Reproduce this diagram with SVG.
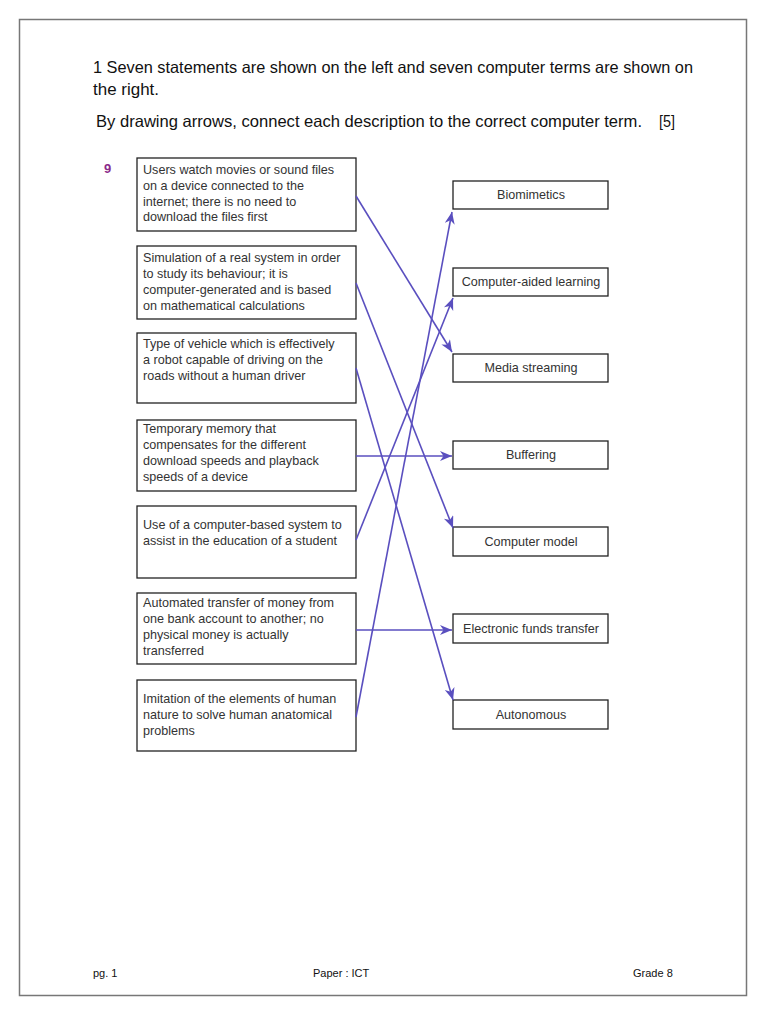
<svg xmlns="http://www.w3.org/2000/svg" width="768" height="1024" viewBox="0 0 768 1024">
<style>
.hd{font-family:"Liberation Sans",Arial,sans-serif;font-size:16.5px;fill:#111}
.ft{font-family:"Liberation Sans",Arial,sans-serif;font-size:11px;fill:#111}
.bx{fill:#fff;stroke:#222;stroke-width:1.3}
.lt{font-family:"Liberation Sans",Arial,sans-serif;font-size:12.6px;fill:#333}
.rt{font-family:"Liberation Sans",Arial,sans-serif;font-size:12.6px;fill:#333;text-anchor:middle}
.cn{stroke:#5a4fbf;stroke-width:1.6;fill:none;marker-end:url(#ah)}
</style>
<defs>
<marker id="ah" markerWidth="14" markerHeight="12" refX="12" refY="5" orient="auto" markerUnits="userSpaceOnUse">
<path d="M0,0 L12,5 L0,10 L3.5,5 z" fill="#5a4fbf"/>
</marker>
</defs>
<rect x="0" y="0" width="768" height="1024" fill="#fff"/>
<rect x="19.5" y="19.5" width="727" height="976" fill="none" stroke="#777" stroke-width="1.5"/>
<g id="header">
<text class="hd" x="93" y="73" textLength="600" lengthAdjust="spacingAndGlyphs">1 Seven statements are shown on the left and seven computer terms are shown on</text>
<text class="hd" x="93" y="95" textLength="66" lengthAdjust="spacingAndGlyphs">the right.</text>
<text class="hd" x="96" y="127" textLength="546" lengthAdjust="spacingAndGlyphs">By drawing arrows, connect each description to the correct computer term.</text>
<text class="hd" x="659" y="127" font-size="14" textLength="16" lengthAdjust="spacingAndGlyphs">[5]</text>
<text x="104" y="173" font-family="Liberation Sans,Arial,sans-serif" font-size="13" font-weight="bold" fill="#8a2a8a">9</text>
</g>
<g id="s1"><rect class="bx" x="137" y="158" width="219" height="73"/>
<text class="lt" x="143" y="174">Users watch movies or sound files</text>
<text class="lt" x="143" y="190">on a device connected to the</text>
<text class="lt" x="143" y="206">internet; there is no need to</text>
<text class="lt" x="143" y="221">download the files first</text></g>
<g id="s2"><rect class="bx" x="137" y="246" width="219" height="73"/>
<text class="lt" x="143" y="262">Simulation of a real system in order</text>
<text class="lt" x="143" y="278">to study its behaviour; it is</text>
<text class="lt" x="143" y="294">computer-generated and is based</text>
<text class="lt" x="143" y="310">on mathematical calculations</text></g>
<g id="s3"><rect class="bx" x="137" y="333" width="219" height="70"/>
<text class="lt" x="143" y="348">Type of vehicle which is effectively</text>
<text class="lt" x="143" y="364">a robot capable of driving on the</text>
<text class="lt" x="143" y="380">roads without a human driver</text></g>
<g id="s4"><rect class="bx" x="137" y="420" width="219" height="71"/>
<text class="lt" x="143" y="433">Temporary memory that</text>
<text class="lt" x="143" y="449">compensates for the different</text>
<text class="lt" x="143" y="465">download speeds and playback</text>
<text class="lt" x="143" y="481">speeds of a device</text></g>
<g id="s5"><rect class="bx" x="137" y="506" width="219" height="72"/>
<text class="lt" x="143" y="529">Use of a computer-based system to</text>
<text class="lt" x="143" y="545">assist in the education of a student</text></g>
<g id="s6"><rect class="bx" x="137" y="593" width="219" height="71"/>
<text class="lt" x="143" y="607">Automated transfer of money from</text>
<text class="lt" x="143" y="623">one bank account to another; no</text>
<text class="lt" x="143" y="639">physical money is actually</text>
<text class="lt" x="143" y="655">transferred</text></g>
<g id="s7"><rect class="bx" x="137" y="680" width="219" height="71"/>
<text class="lt" x="143" y="703">Imitation of the elements of human</text>
<text class="lt" x="143" y="719">nature to solve human anatomical</text>
<text class="lt" x="143" y="735">problems</text></g>
<g id="t1"><rect class="bx" x="453" y="181" width="155" height="28"/><text class="rt" x="531" y="199">Biomimetics</text></g>
<g id="t2"><rect class="bx" x="453" y="268" width="155" height="28"/><text class="rt" x="531" y="286">Computer-aided learning</text></g>
<g id="t3"><rect class="bx" x="453" y="354" width="155" height="28"/><text class="rt" x="531" y="372">Media streaming</text></g>
<g id="t4"><rect class="bx" x="453" y="441" width="155" height="28"/><text class="rt" x="531" y="459">Buffering</text></g>
<g id="t5"><rect class="bx" x="453" y="527" width="155" height="29"/><text class="rt" x="531" y="546">Computer model</text></g>
<g id="t6"><rect class="bx" x="453" y="614" width="155" height="29"/><text class="rt" x="531" y="633">Electronic funds transfer</text></g>
<g id="t7"><rect class="bx" x="453" y="700" width="155" height="29"/><text class="rt" x="531" y="719">Autonomous</text></g>
<g id="connectors">
<path class="cn" d="M356,196 L452,352"/>
<path class="cn" d="M356,283 L453,528"/>
<path class="cn" d="M356,368 L453,700"/>
<path class="cn" d="M356,456 L452,456"/>
<path class="cn" d="M356,540 L453,298"/>
<path class="cn" d="M356,630 L452,630"/>
<path class="cn" d="M356,717 L452,212"/>
</g>
<g id="footer">
<text class="ft" x="93" y="977">pg. 1</text>
<text class="ft" x="313" y="977">Paper : ICT</text>
<text class="ft" x="633" y="977">Grade 8</text>
</g>
</svg>
